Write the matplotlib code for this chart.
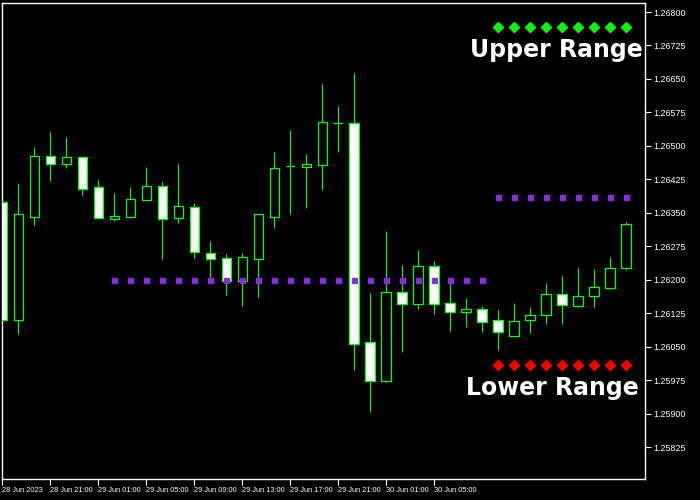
import matplotlib
matplotlib.use("Agg")
from matplotlib import pyplot as plt
from matplotlib.patches import Rectangle

# GBPUSD-style OHLC candles
opens = [1.26374, 1.26110, 1.26341, 1.26477, 1.26460, 1.26474, 1.26407, 1.26337, 1.26341, 1.26379,
         1.26409, 1.26339, 1.26362, 1.26259, 1.26248, 1.26198, 1.26247, 1.26341, 1.26454, 1.26453,
         1.26456, 1.26551, 1.26551, 1.26060, 1.25974, 1.26172, 1.26146, 1.26230, 1.26147, 1.26128,
         1.26134, 1.26109, 1.26074, 1.26109, 1.26122, 1.26167, 1.26142, 1.26163, 1.26182, 1.26227]
highs = [1.26379, 1.26417, 1.26497, 1.26531, 1.26520, 1.26474, 1.26423, 1.26394, 1.26408, 1.26453,
         1.26419, 1.26459, 1.26371, 1.26287, 1.26258, 1.26260, 1.26347, 1.26486, 1.26536, 1.26482,
         1.26639, 1.26589, 1.26663, 1.26170, 1.26309, 1.26233, 1.26267, 1.26242, 1.26202, 1.26159,
         1.26141, 1.26132, 1.26147, 1.26139, 1.26192, 1.26208, 1.26226, 1.26224, 1.26251, 1.26329]
lows = [1.26105, 1.26078, 1.26323, 1.26421, 1.26451, 1.26390, 1.26339, 1.26332, 1.26339, 1.26379,
        1.26246, 1.26326, 1.26249, 1.26204, 1.26166, 1.26141, 1.26161, 1.26316, 1.26347, 1.26361,
        1.26401, 1.26486, 1.25998, 1.25903, 1.25971, 1.26038, 1.26135, 1.26123, 1.26086, 1.26095,
        1.26083, 1.26042, 1.26074, 1.26081, 1.26101, 1.26101, 1.26139, 1.26139, 1.26180, 1.26222]
closes = [1.26110, 1.26347, 1.26477, 1.26460, 1.26474, 1.26404, 1.26339, 1.26342, 1.26380, 1.26409,
          1.26337, 1.26365, 1.26261, 1.26247, 1.26196, 1.26250, 1.26347, 1.26450, 1.26454, 1.26459,
          1.26553, 1.26551, 1.26057, 1.25974, 1.26172, 1.26146, 1.26230, 1.26146, 1.26128, 1.26134,
          1.26106, 1.26083, 1.26107, 1.26122, 1.26167, 1.26143, 1.26163, 1.26183, 1.26226, 1.26324]

# range levels
lower_level = 1.26200
lower_start, lower_end = 7, 30
upper_level = 1.26385
upper_start, upper_end = 31, 39
upper_marker = 1.26767
lower_marker = 1.26009

time_labels = ["28 Jun 2023", "28 Jun 21:00", "29 Jun 01:00", "29 Jun 05:00", "29 Jun 09:00",
               "29 Jun 13:00", "29 Jun 17:00", "29 Jun 21:00", "30 Jun 01:00", "30 Jun 05:00"]
label_positions = [0, 3, 6, 9, 12, 15, 18, 21, 24, 27]

price_ticks = [1.25825, 1.25900, 1.25975, 1.26050, 1.26125, 1.26200, 1.26275,
               1.26350, 1.26425, 1.26500, 1.26575, 1.26650, 1.26725, 1.26800]

#Setup
fig = plt.figure(figsize=(7, 5), dpi=100, facecolor="black")
ax = fig.add_axes([2/700, 21/500, 643/700, 476/500], facecolor="black")
green = "#00FF00"

#Candles
for i in range(len(opens)):
    o, h, l, c = opens[i], highs[i], lows[i], closes[i]
    ax.vlines(i, l, h, color=green, linewidth=0.8, zorder=2)
    fill = "black" if c >= o else "white"
    ax.add_patch(Rectangle((i - 0.3, min(o, c)), 0.6, abs(c - o), facecolor=fill,
                           edgecolor=green, linewidth=0.9, zorder=3))

#Range lines (dotted)
lx = list(range(lower_start, lower_end + 1))
ax.plot(lx, [lower_level]*len(lx), "s", color="#8A2BE2", markersize=3.6, zorder=4)
ux = list(range(upper_start, upper_end + 1))
ax.plot(ux, [upper_level]*len(ux), "s", color="#8A2BE2", markersize=3.6, zorder=4)

#Diamonds
ax.plot(ux, [upper_marker]*len(ux), "D", color=green, markersize=5.5, zorder=4)
ax.plot(ux, [lower_marker]*len(ux), "D", color="#FF0000", markersize=5.5, zorder=4)

#Labels
ax.text(0.997, 1.26699, "Upper Range", color="white", fontsize=17, fontweight="bold",
        ha="right", va="baseline", transform=ax.get_yaxis_transform(), zorder=5)
ax.text(0.99, 1.25942, "Lower Range", color="white", fontsize=17, fontweight="bold",
        ha="right", va="baseline", transform=ax.get_yaxis_transform(), zorder=5)

#Axes
ax.set_xlim(-0.02, 40.17)
ax.set_ylim(1.257533, 1.268202)
ax.yaxis.tick_right()
ax.set_yticks(price_ticks)
ax.set_yticklabels(["%.5f" % p for p in price_ticks], family="Liberation Sans", fontsize=6.4)
ax.set_xticks(label_positions)
ax.set_xticklabels(time_labels, ha="left", family="Liberation Sans", fontsize=5.3)
ax.tick_params(colors="white", labelcolor="white", length=4, width=0.8, pad=2)
for s in ax.spines.values():
    s.set_color("white")
    s.set_linewidth(1)

fig.savefig("out.png", dpi=100, facecolor="black")
